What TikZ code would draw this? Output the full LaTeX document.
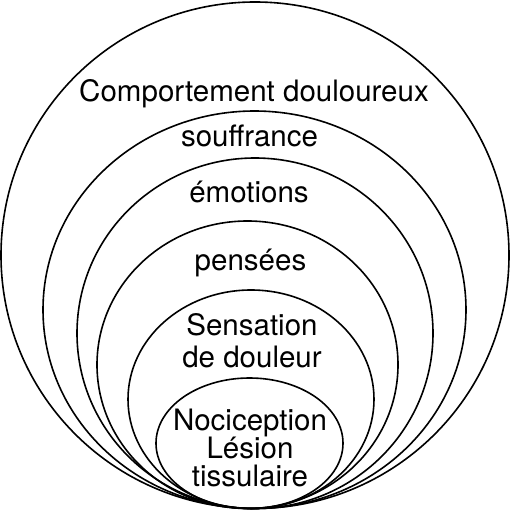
\documentclass[tikz,border=0pt]{standalone}
\usepackage{fontspec}
\setmainfont{TeX Gyre Heros}
\usepackage{tikz}

\tikzset{
  ring/.style={line width=1.6pt, black},
  lbl/.style={font=\fontsize{29.5}{33}\selectfont, inner sep=0pt, anchor=base}
}

\begin{document}
\begin{tikzpicture}[x=1pt,y=1pt]

% Frame
\useasboundingbox (0,0) rectangle (512,512);

% Nested ellipses, all touching at the bottom
\draw[ring] (255,256.75) ellipse (254 and 253.25);   % Comportement
\draw[ring] (254.5,202.25) ellipse (211.5 and 198.75); % souffrance
\draw[ring] (255,178.75) ellipse (178 and 175.25);   % emotions
\draw[ring] (247.5,147.25) ellipse (150.5 and 143.75); % pensees
\draw[ring] (251,112.75) ellipse (123 and 109.25);   % sensation
\draw[ring] (249.5,68.75) ellipse (93.5 and 65.25);  % nociception

% Labels (base = baseline of last line)
\node[lbl] (comp) at (254,410) {Comportement douloureux};
\node[lbl] (souf) at (249.5,365) {souffrance};
\node[lbl] (emo) at (249,309) {émotions};
\node[lbl] (pens) at (250.5,241) {pensées};
\node[lbl, align=center, font=\fontsize{29.5}{32.5}\selectfont] (sens) at (252,144) {Sensation\\de douleur};
\node[lbl, align=center, font=\fontsize{29.5}{28.5}\selectfont] (noci) at (250,25) {Nociception\\Lésion\\tissulaire};

\end{tikzpicture}
\end{document}
